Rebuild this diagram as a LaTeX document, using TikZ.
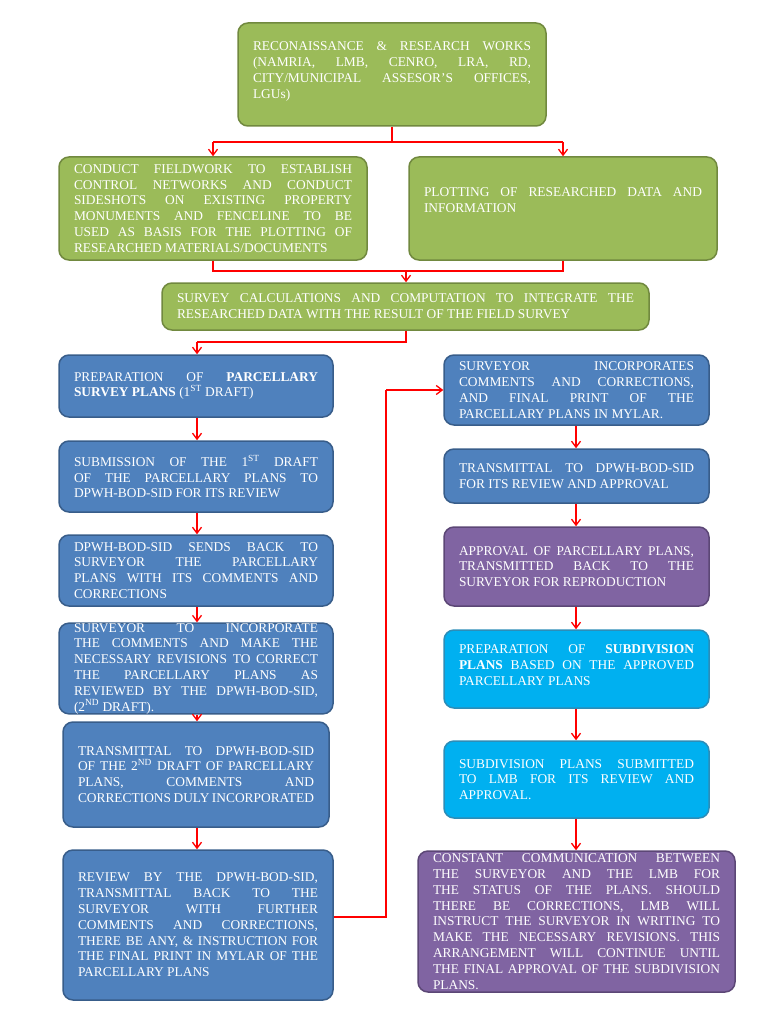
\documentclass[tikz,border=0pt]{standalone}
\usepackage{fontspec}
\setmainfont{Liberation Serif}
\usetikzlibrary{arrows.meta}
\definecolor{gF}{HTML}{9BBB59}\definecolor{gD}{HTML}{71893F}
\definecolor{bF}{HTML}{4F81BD}\definecolor{bD}{HTML}{385D8A}
\definecolor{pF}{HTML}{8064A2}\definecolor{pD}{HTML}{5C4776}
\definecolor{cF}{HTML}{00B0F0}\definecolor{cD}{HTML}{2C8DB8}
\newcommand\nohy{\hyphenpenalty=10000 \exhyphenpenalty=10000 \tolerance=9999 \emergencystretch=20pt\relax}
\tikzset{
 box/.style={rounded corners=10pt,line width=1.5pt,text=white,align=justify,inner sep=0pt,
   font={\fontsize{13.4}{15.8}\selectfont\nohy}},
 gb/.style={box,fill=gF,draw=gD},
 bb/.style={box,fill=bF,draw=bD},
 pb/.style={box,fill=pF,draw=pD},
 cb/.style={box,fill=cF,draw=cD},
 ar/.style={draw=red,line width=1.3pt,-{Straight Barb[length=6pt,width=9pt]}},
 ln/.style={draw=red,line width=1.3pt}
}
\newcommand{\bx}[7]{% style,name,x1,y1,x2,y2,text
 \node[#1,minimum width=#5-#3,minimum height=#6-#4,text width=#5-#3-30] (#2) at ({(#3+#5)/2},{(#4+#6)/2}) {#7};}
\begin{document}
\begin{tikzpicture}[x=1pt,y=-1pt]
\useasboundingbox (0,0) rectangle (768,1024);
\bx{gb}{a}{238}{23}{546}{126}{RECONAISSANCE \& RESEARCH WORKS (NAMRIA, LMB, CENRO, LRA, RD, CITY/MUNICIPAL ASSESOR'S OFFICES, LGUs)\par\vspace{6pt}}
\bx{gb}{b}{59}{157}{367}{260}{CONDUCT FIELDWORK TO ESTABLISH CONTROL NETWORKS AND CONDUCT SIDESHOTS ON EXISTING PROPERTY MONUMENTS AND FENCELINE TO BE USED AS BASIS FOR THE PLOTTING OF RESEARCHED MATERIALS/DOCUMENTS}
\bx{gb}{c}{409}{157}{717}{260}{PLOTTING OF RESEARCHED DATA AND INFORMATION\par\vspace{16pt}}
\bx{gb}{d}{162}{283}{649}{330}{SURVEY CALCULATIONS AND COMPUTATION TO INTEGRATE THE RESEARCHED DATA WITH THE RESULT OF THE FIELD SURVEY}
\bx{bb}{e}{59}{355}{333}{417}{PREPARATION OF \textbf{PARCELLARY SURVEY PLANS} (1\textsuperscript{ST} DRAFT)}
\bx{bb}{f}{59}{441}{333}{512}{SUBMISSION OF THE 1\textsuperscript{ST} DRAFT OF THE PARCELLARY PLANS TO DPWH-BOD-SID FOR ITS REVIEW}
\bx{bb}{g}{59}{535}{333}{606}{DPWH-BOD-SID SENDS BACK TO SURVEYOR THE PARCELLARY PLANS WITH ITS COMMENTS AND CORRECTIONS}
\bx{bb}{h}{59}{629}{333}{708}{SURVEYOR TO INCORPORATE THE COMMENTS AND MAKE THE NECESSARY REVISIONS TO CORRECT THE PARCELLARY PLANS AS REVIEWED BY THE DPWH-BOD-SID, (2\textsuperscript{ND} DRAFT).}
\bx{bb}{i}{63}{722}{329}{827}{TRANSMITTAL TO DPWH-BOD-SID OF THE 2\textsuperscript{ND} DRAFT OF PARCELLARY PLANS, COMMENTS AND CORRECTIONS DULY INCORPORATED}
\bx{bb}{j}{63}{850}{333}{1000}{REVIEW BY THE DPWH-BOD-SID, TRANSMITTAL BACK TO THE SURVEYOR WITH FURTHER COMMENTS AND CORRECTIONS, THERE BE ANY, \& INSTRUCTION FOR THE FINAL PRINT IN MYLAR OF THE PARCELLARY PLANS}
\bx{bb}{k}{444}{355}{709}{425}{SURVEYOR INCORPORATES COMMENTS AND CORRECTIONS, AND FINAL PRINT OF THE PARCELLARY PLANS IN MYLAR.}
\bx{bb}{l}{444}{449}{709}{503}{TRANSMITTAL TO DPWH-BOD-SID FOR ITS REVIEW AND APPROVAL}
\bx{pb}{m}{444}{527}{709}{606}{APPROVAL OF PARCELLARY PLANS, TRANSMITTED BACK TO THE SURVEYOR FOR REPRODUCTION}
\bx{cb}{n}{444}{630}{709}{708}{PREPARATION OF \textbf{SUBDIVISION PLANS} BASED ON THE APPROVED PARCELLARY PLANS\par\vspace{8pt}}
\bx{cb}{o}{444}{741}{709}{818}{SUBDIVISION PLANS SUBMITTED TO LMB FOR ITS REVIEW AND APPROVAL.}
\bx{pb}{p}{418}{851}{735}{992}{CONSTANT COMMUNICATION BETWEEN THE SURVEYOR AND THE LMB FOR THE STATUS OF THE PLANS. SHOULD THERE BE CORRECTIONS, LMB WILL INSTRUCT THE SURVEYOR IN WRITING TO MAKE THE NECESSARY REVISIONS. THIS ARRANGEMENT WILL CONTINUE UNTIL THE FINAL APPROVAL OF THE SUBDIVISION PLANS.}
% connectors
\coordinate (t1) at (213,142);\coordinate (t2) at (563,142);
\draw[ln] (a.south) -- (a.south|-t1);
\draw[ar] (t1) -| (b.north-|t1);
\draw[ln] (t1) -- (t2);
\draw[ar] (t2) -- (c.north-|t2);
\coordinate (u1) at (213,271);\coordinate (u2) at (563,271);\coordinate (u3) at (406,271);
\draw[ln] (b.south-|u1) -- (u1) -- (u2) -- (c.south-|u2);
\draw[ar] (u3) -- (d.north-|u3);
\coordinate (v1) at (406,342);\coordinate (v2) at (197,342);
\draw[ln] (d.south-|v1) -- (v1) -- (v2);
\draw[ar] (v2) -- (e.north-|v2);
\foreach \s/\t in {e/f,f/g,g/h,h/i,i/j}{\draw[ar] (\s.south-|v2) -- (\t.north-|v2);}
\coordinate (w1) at (386,917);\coordinate (w2) at (386,390);
\draw[ln] (j.east|-w1) -- (w1) -- (w2);
\draw[ar] (w2) -- (k.west|-w2);
\coordinate (r) at (576,0);
\foreach \s/\t in {k/l,l/m,m/n,n/o,o/p}{\draw[ar] (\s.south-|r) -- (\t.north-|r);}
\end{tikzpicture}
\end{document}
